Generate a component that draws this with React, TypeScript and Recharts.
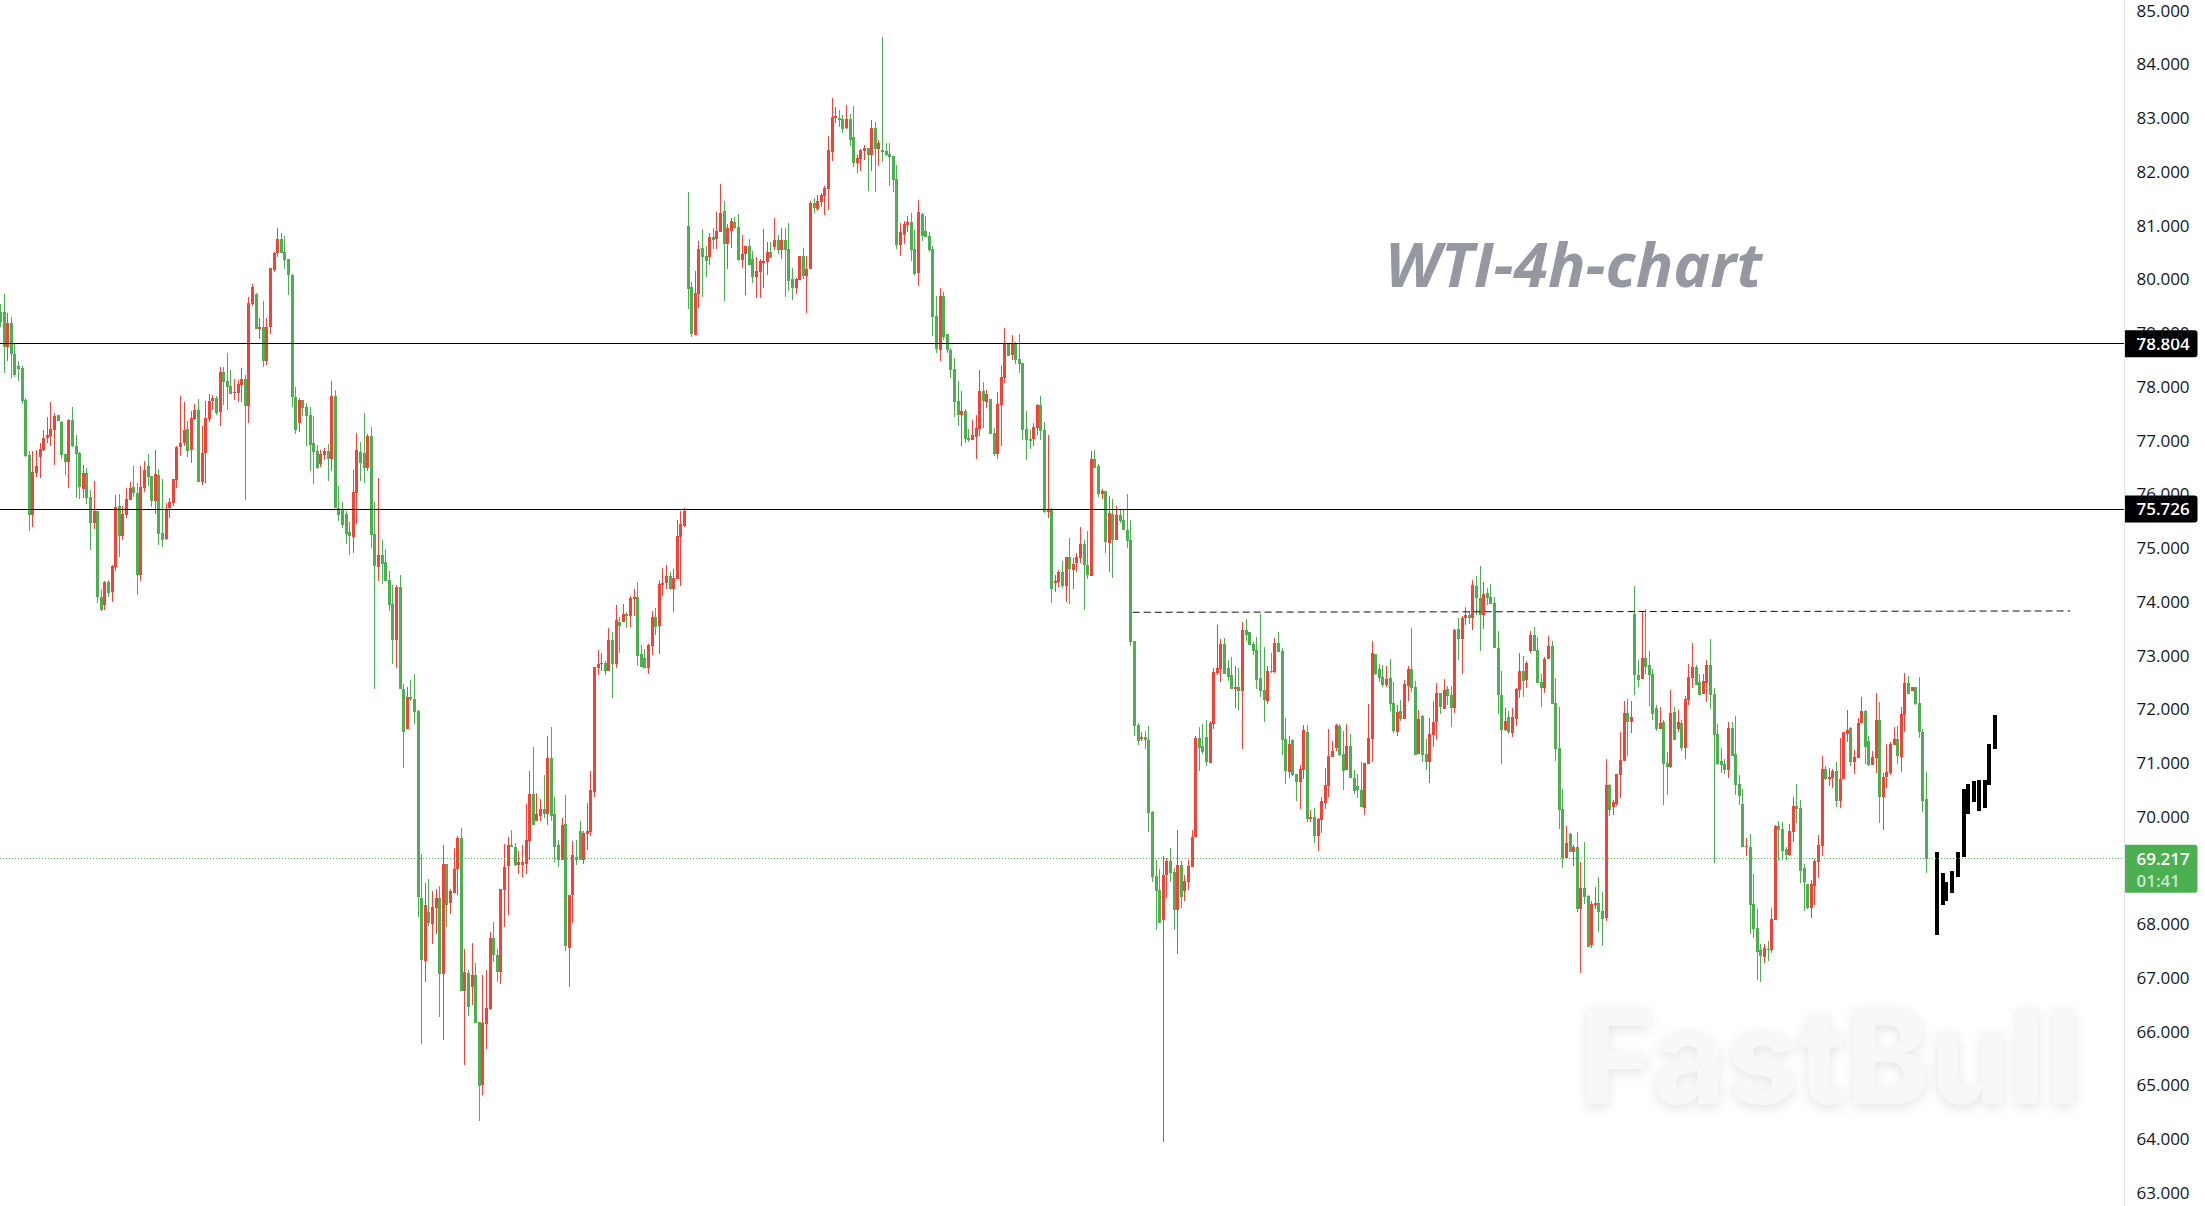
import React from 'react';
import { ComposedChart, Bar, XAxis, YAxis, ReferenceLine } from 'recharts';

// candles as [open, high, low, close] in order
const segmentA = [
  [79.40,79.54,79.12,79.21],[79.39,79.73,78.26,78.75],[78.75,79.37,78.48,79.19],[79.19,79.30,78.17,78.62],[78.62,78.81,78.19,78.22],
  [78.39,78.48,78.10,78.33],[78.35,78.39,77.69,77.74],[77.76,77.79,76.70,76.72],[76.73,76.81,75.32,75.61],[75.61,76.81,75.40,76.42],
  [76.40,76.82,76.32,76.53],[76.70,76.96,76.30,76.84],[76.82,77.20,76.81,77.05],[77.05,77.44,76.96,77.10],[77.08,77.72,76.90,77.22],
  [77.20,77.51,76.55,77.46],[77.48,77.48,77.36,77.36],[77.35,77.36,76.66,76.73],[76.75,76.75,76.36,76.60],[76.60,77.40,76.12,77.38],
  [77.38,77.62,76.88,76.90],[76.90,77.10,75.93,76.75],[76.77,76.79,75.91,76.14],[76.10,76.55,75.93,76.40],[76.40,76.49,75.82,75.93],
  [75.95,76.08,74.96,75.47],[75.47,76.25,75.35,75.69],[75.69,75.69,73.98,74.09],[74.09,74.24,73.83,73.85],[73.94,74.39,73.85,74.37],
  [74.37,74.41,74.09,74.16],[74.18,74.68,74.00,74.67],[74.65,75.99,74.57,75.76],[75.78,76.01,74.83,75.22],[75.22,75.78,75.15,75.63],
  [75.61,76.12,75.56,75.91],[75.89,76.23,75.89,76.12],[76.14,76.53,75.95,76.02],[76.02,76.21,74.13,74.50],[74.50,76.53,74.39,76.14],
  [76.12,76.62,76.04,76.45],[76.53,76.75,76.15,76.32],[76.34,76.34,75.76,75.88],[75.88,76.82,75.63,76.38],[76.36,76.47,75.06,75.26],
  [75.28,76.29,75.02,75.15],[75.17,75.84,75.15,75.73],[75.74,75.93,75.56,75.86],[75.84,76.29,75.78,76.29],[76.27,76.90,76.12,76.88],
  [76.88,77.83,76.71,76.96],[76.96,77.72,76.90,77.20],[77.22,77.36,76.69,76.81],[76.82,77.55,76.58,77.42],[77.40,77.68,77.38,77.57],
  [77.57,77.77,76.23,76.23],[76.23,77.27,76.17,76.77],[76.77,77.74,76.21,77.42],[77.40,77.87,77.35,77.74],[77.74,77.85,77.57,77.79],
  [77.79,77.83,77.48,77.51],[77.53,78.37,77.27,78.28],[78.28,78.37,77.66,78.09],[78.11,78.63,77.57,78.00],[78.02,78.31,77.87,77.87],
  [77.88,78.15,77.75,77.90],[77.88,78.13,77.72,78.05],[78.03,78.35,77.72,78.15],[78.15,78.22,75.89,77.64],[77.64,79.67,77.33,79.56],
  [79.54,79.91,79.50,79.86],[79.73,79.75,79.08,79.08],[79.08,79.28,78.89,79.11],[79.11,79.60,78.37,78.48],[78.48,79.28,78.41,79.11],
  [79.11,80.21,78.98,80.21],[80.17,80.51,80.14,80.49],[80.49,80.96,80.42,80.75],[80.75,80.86,80.49,80.49],[80.51,80.81,80.19,80.36],
  [80.38,80.38,79.71,80.08],[80.08,80.10,77.62,77.81],[77.81,78.00,77.12,77.20],[77.33,77.79,77.16,77.76],[77.76,77.76,77.46,77.61],
  [77.62,77.70,76.90,77.46],[77.48,77.62,76.43,76.92],[76.95,77.46,76.19,76.79],[76.81,76.92,76.47,76.49],[76.56,76.82,76.51,76.75],
  [76.73,76.86,76.64,76.81],[76.81,76.94,76.25,76.66],[76.66,78.11,76.43,77.83],[77.83,77.94,75.74,75.74],[75.74,76.15,75.50,75.61],
  [75.71,75.86,75.37,75.43],[75.63,75.69,75.07,75.26],[75.30,75.48,74.87,75.22],[75.21,76.45,74.91,76.04],[76.02,77.14,75.45,76.82],
  [76.79,76.97,76.25,76.58],[76.77,77.51,76.21,76.49],[76.49,77.12,76.43,77.08],[77.08,77.25,75.00,75.25],
];

const segmentB = [
  [75.27,75.86,72.38,74.67],[74.65,76.30,74.38,74.87],[74.87,75.15,74.34,74.70],[74.74,74.99,74.38,74.39],[74.41,74.58,73.83,73.94],
  [73.96,74.32,72.84,73.29],[73.29,74.32,72.77,74.28],[74.28,74.50,72.38,72.38],[72.38,72.47,70.90,71.58],[71.63,72.41,71.63,72.22],
  [72.22,72.54,72.15,72.19],[72.20,72.66,71.72,71.95],[71.96,71.99,68.13,68.50],[68.49,69.30,65.77,67.34],[67.32,68.76,66.93,68.35],
  [68.23,68.85,67.97,68.03],[68.01,68.61,67.63,68.32],[68.31,68.66,67.81,68.48],[68.48,68.72,66.28,67.08],[67.08,69.48,65.84,69.13],
  [69.13,69.13,67.94,68.35],[68.40,68.65,68.20,68.61],[68.59,69.41,68.59,69.03],[69.02,69.64,68.55,69.60],[69.60,69.80,66.76,66.76],
  [66.76,67.54,65.38,67.11],[67.09,67.15,66.29,66.46],[66.83,67.65,66.50,67.06],[67.06,67.27,66.17,66.17],[66.19,66.19,64.34,64.99],
  [65.01,67.05,64.82,66.16],[66.15,67.14,65.68,66.44],[66.42,67.86,66.40,67.75],[67.75,68.05,67.30,67.43],[67.43,67.54,66.93,67.11],
  [67.11,68.66,66.89,68.66],[68.64,69.50,67.94,69.07],[69.09,69.63,68.18,69.47],[69.48,69.75,69.44,69.44],[69.44,69.52,69.09,69.11],
  [69.11,69.37,68.94,69.15],[69.11,69.48,68.87,69.15],[69.13,70.23,68.94,69.56],[69.54,70.85,69.20,70.42],[70.42,71.29,69.84,69.84],
  [69.92,70.44,69.92,70.05],[70.02,70.34,69.92,70.14],[70.14,70.77,69.98,70.06],[70.06,71.50,69.84,71.10],[71.10,71.67,69.92,70.01],
  [70.05,70.36,69.15,69.43],[69.48,69.56,69.06,69.20],[69.20,69.98,69.19,69.84],[69.86,70.40,67.51,67.60],[67.56,68.55,66.83,68.55],
  [68.54,69.54,68.03,69.28],[69.26,69.57,69.11,69.19],[69.73,69.92,69.19,69.19],[69.19,69.73,69.13,69.69],[69.68,70.25,69.39,69.73],
  [69.71,70.85,69.65,70.49],[70.47,72.79,70.36,72.79],[72.77,73.11,72.63,72.84],[72.84,73.05,72.72,72.86],[72.86,72.89,72.63,72.72],
  [72.72,73.51,72.72,73.29],[73.29,73.44,72.21,72.84],[72.84,73.94,72.77,73.66],[73.62,73.72,73.05,73.55],[73.62,73.96,73.62,73.78],
  [73.78,73.81,73.52,73.74],[73.74,74.11,73.53,74.08],[74.06,74.24,73.74,74.09],[74.09,74.37,72.80,73.00],[73.03,73.20,72.79,72.79],
  [72.95,73.12,72.76,72.76],[72.76,73.22,72.66,73.20],[73.18,73.83,73.01,73.72],[73.72,73.88,73.38,73.53],[73.55,74.41,73.03,74.33],
  [74.32,74.63,74.11,74.35],[74.35,74.69,74.24,74.48],[74.48,74.56,74.22,74.24],[74.24,74.61,73.81,74.45],[74.43,75.53,74.43,75.23],
  [75.21,75.69,74.29,75.44],[75.41,75.75,75.40,75.69],
];

const segmentC = [
  [80.99,81.63,79.45,79.83],[79.86,79.95,78.93,78.98],[78.96,80.16,78.96,79.75],[79.73,80.71,79.47,80.57],[80.58,80.94,79.67,80.42],
  [80.43,80.62,80.04,80.34],[80.42,80.86,80.27,80.79],[80.79,80.96,80.57,80.73],[80.75,81.25,80.57,80.90],[80.88,81.78,80.88,81.24],
  [81.27,81.46,79.60,80.66],[80.66,81.03,80.19,80.96],[80.90,81.14,80.58,81.09],[81.07,81.16,80.94,80.96],[80.97,81.22,80.35,80.36],
  [80.36,80.83,80.21,80.47],[80.47,80.62,79.71,80.62],[80.62,80.75,80.27,80.27],[80.38,80.53,79.93,80.04],[80.04,80.42,79.65,80.16],
  [80.14,80.38,79.65,80.34],[80.30,80.94,79.84,80.34],[80.32,80.70,80.08,80.51],[80.51,80.70,80.40,80.40],[80.60,81.14,80.55,80.73],
  [80.73,80.83,80.47,80.55],[80.55,80.96,80.38,80.73],[80.73,80.96,79.67,80.55],[80.57,81.05,79.78,79.97],[80.01,80.21,79.62,79.84],
  [79.84,80.03,79.73,80.01],[79.99,80.43,79.99,80.43],[80.43,80.58,80.01,80.06],[80.06,80.43,79.38,80.19],[80.19,81.46,80.19,81.42],
  [81.42,81.51,81.23,81.33],[81.31,81.57,81.27,81.46],[81.44,81.61,81.35,81.57],[81.55,81.74,81.20,81.70],[81.68,82.67,81.29,82.41],
  [82.37,83.37,82.20,83.02],[83.00,83.21,82.91,83.04],[83.00,83.15,82.84,82.97],[82.98,83.06,82.72,82.80],[82.82,83.25,82.80,82.98],
  [82.98,83.08,82.48,82.59],[82.65,83.23,82.09,82.17],[82.17,82.31,81.98,82.26],[82.24,82.43,82.02,82.41],[82.39,82.50,82.22,82.45],
  [82.45,82.45,81.64,82.32],[82.32,82.97,82.02,82.82],[82.82,82.93,81.63,82.43],[82.43,82.59,82.11,82.54],[82.41,84.51,82.18,82.37],
  [82.39,82.54,82.30,82.32],[82.33,82.54,81.74,82.28],[82.30,82.30,81.63,81.85],[81.87,82.13,80.57,80.64],[80.64,81.05,80.43,80.88],
  [80.83,81.09,80.66,81.03],[81.01,81.18,80.88,81.07],[81.07,81.23,80.34,80.55],[80.57,80.92,80.08,80.10],[80.12,81.48,79.88,81.25],
  [81.22,81.23,80.71,80.81],[80.90,81.18,80.79,80.79],[80.81,80.88,80.51,80.55],[80.57,80.62,78.95,79.30],[79.32,79.69,78.63,78.70],
  [78.69,79.84,78.48,79.69],[79.69,79.76,78.87,78.93],[78.98,78.98,78.63,78.69],[78.69,78.72,78.16,78.31],[78.33,78.54,77.44,77.72],
  [77.74,78.11,77.27,77.48],[77.48,77.92,76.90,77.55],[77.55,77.59,76.95,77.03],[77.05,77.22,76.97,77.01],[77.01,77.38,77.01,77.10],
  [77.07,77.48,76.66,77.23],[77.22,78.31,77.09,77.92],[77.92,78.09,77.23,77.74],[77.72,77.94,77.61,77.87],[77.77,77.77,77.12,77.12],
  [77.14,77.23,76.71,76.75],[76.75,77.90,76.66,77.68],[77.66,78.39,76.90,78.18],[78.17,79.09,78.07,78.82],[78.82,78.82,78.57,78.57],
  [78.59,78.96,78.50,78.82],[78.82,78.83,78.43,78.50],[78.52,78.98,78.26,78.43],[78.44,78.44,77.01,77.20],[77.22,77.55,76.64,77.01],
  [77.03,77.20,76.84,76.99],[77.03,77.33,76.90,77.25],[77.23,77.68,77.10,77.66],[77.66,77.83,77.01,77.18],
];

const segmentD = [
  [77.20,77.35,75.65,75.68],[75.67,77.10,75.56,75.72],[75.72,75.75,73.98,74.24],[74.35,74.50,74.18,74.39],[74.37,74.59,74.28,74.55],
  [74.55,74.76,74.26,74.29],[74.29,74.83,74.00,74.83],[74.83,75.19,73.96,74.61],[74.59,74.82,74.24,74.70],[74.72,74.91,74.55,74.83],
  [74.82,75.39,74.72,75.08],[75.08,75.15,73.85,74.69],[74.69,75.32,74.42,74.50],[74.48,76.81,74.48,76.66],[76.66,76.82,76.49,76.49],
  [76.53,76.57,75.95,76.01],[76.01,76.10,75.91,76.06],[76.06,76.06,74.91,75.11],[75.10,75.97,74.55,75.65],[75.63,75.91,74.44,75.15],
  [75.15,75.78,75.15,75.62],[75.62,75.73,75.47,75.50],[75.52,75.73,75.34,75.34],[75.34,76.01,75.00,75.13],[75.15,75.52,73.18,73.26],
];

const segmentE = [
  [73.27,73.27,71.50,71.69],[71.71,71.75,71.34,71.41],[71.45,71.58,71.41,71.49],[71.49,71.60,71.26,71.43],[71.43,71.69,69.72,70.07],
  [70.09,70.11,68.79,68.88],[68.90,69.20,67.89,68.62],[68.64,69.03,68.02,68.02],[68.08,69.27,63.95,68.92],[68.92,69.23,68.49,69.18],
  [69.18,69.42,68.79,68.95],[68.97,69.05,67.89,68.26],[68.26,69.75,67.45,69.10],[69.10,69.18,68.30,68.51],[68.62,68.92,68.43,68.80],
  [68.79,69.20,68.64,69.08],[69.07,69.75,69.07,69.62],[69.62,71.50,69.62,71.47],[71.47,71.67,70.85,71.28],[71.32,71.73,71.17,71.20],
  [71.49,71.80,70.94,71.02],[71.00,71.78,71.00,71.75],[71.73,72.77,71.63,72.69],[72.68,73.57,72.64,72.77],[72.75,73.31,72.51,73.22],
  [73.22,73.33,72.66,72.66],[72.77,72.92,72.53,72.60],[72.64,72.97,72.38,72.38],[72.38,72.81,72.02,72.42],[72.42,72.77,71.99,72.34],
  [72.34,73.62,71.26,73.48],[73.48,73.68,73.27,73.38],[73.44,73.44,73.20,73.20],[73.22,73.25,73.01,73.09],[73.10,73.35,72.38,72.55],
  [72.58,73.77,72.23,72.34],[72.36,73.16,71.76,72.17],[72.16,72.81,72.10,72.71],[72.71,73.05,72.68,72.69],[72.69,73.33,72.68,73.24],
  [73.24,73.44,73.07,73.07],[73.09,73.14,71.15,71.43],[71.45,71.84,70.61,70.85],[70.83,71.50,70.72,71.35],[71.43,71.45,70.76,70.78],
  [70.80,70.80,70.29,70.65],[70.65,70.96,70.14,70.89],[70.87,71.71,70.70,71.62],[71.58,71.71,69.90,69.96],[69.96,70.12,69.90,70.00],
  [70.00,70.16,69.51,69.64],[69.64,69.98,69.36,69.96],[69.94,70.37,69.69,70.29],[70.26,70.91,70.14,70.59],[70.57,71.63,70.37,71.13],
  [71.11,71.41,71.11,71.22],[71.28,71.73,71.22,71.71],[71.69,71.73,71.13,71.15],[71.17,71.60,70.50,70.85],[70.87,71.73,70.87,71.32],
  [71.32,71.54,70.72,70.72],[70.72,70.87,70.42,70.48],[70.57,70.80,70.35,70.50],[70.50,71.02,70.18,70.18],[70.16,71.00,70.03,71.00],
  [70.98,72.10,70.98,71.47],[71.45,73.27,71.02,73.05],[73.03,73.03,72.64,72.66],[72.75,72.84,72.51,72.58],[72.60,72.82,72.42,72.45],
  [72.45,72.81,72.42,72.56],[72.58,72.94,71.97,72.10],[72.12,72.51,71.56,71.60],[71.58,72.08,71.50,71.95],[71.97,72.17,71.78,71.82],
  [71.82,72.55,71.82,72.47],[72.43,72.81,72.15,72.75],[72.75,73.51,72.32,72.40],[72.42,72.53,71.15,71.15],[71.17,71.99,71.17,71.82],
  [71.88,71.90,71.02,71.15],[71.17,71.45,70.87,71.02],[71.02,71.84,70.63,71.54],[71.52,72.15,71.30,71.76],[71.76,72.49,71.43,72.30],
  [72.30,72.30,71.91,72.04],[72.00,72.56,72.00,72.36],[72.38,72.43,72.08,72.25],[72.27,72.43,71.67,72.02],[72.02,73.50,71.93,73.48],
  [73.50,73.70,72.92,73.31],[73.31,73.74,72.66,73.70],[73.70,73.90,73.57,73.76],[73.76,73.83,73.59,73.70],[73.70,74.41,73.48,74.31],
  [74.30,74.48,73.76,74.07],[74.07,74.67,73.09,73.76],[73.76,74.37,73.50,74.15],[74.17,74.26,73.94,74.07],[74.09,74.33,73.96,73.96],
  [73.98,74.09,73.14,73.14],[73.14,73.46,71.91,72.27],[72.27,72.71,70.98,71.62],[71.62,72.02,71.60,71.78],[71.86,71.97,71.54,71.58],
  [71.56,72.02,71.49,71.86],[71.82,72.40,71.69,72.38],[72.36,73.05,72.21,72.71],[72.71,72.99,72.23,72.53],[72.55,72.90,72.40,72.86],
];

const segmentF = [
  [73.09,73.46,73.05,73.38],[73.38,73.53,73.09,73.09],[73.10,73.35,72.49,72.49],[72.51,72.66,72.04,72.40],[72.40,72.97,72.30,72.94],
  [72.94,73.36,72.94,73.18],[73.18,73.27,72.10,72.10],[72.12,72.58,71.04,71.26],[71.28,72.04,69.77,70.13],[70.14,70.52,69.05,69.23],
  [69.23,69.83,69.23,69.51],[69.68,69.70,69.34,69.34],[69.34,69.47,69.08,69.44],[69.44,69.72,68.23,68.29],[68.29,69.16,67.09,68.68],
  [68.68,69.53,68.38,68.51],[68.53,68.54,67.58,67.58],[67.61,68.43,67.56,68.38],[68.36,68.69,68.28,68.40],[68.40,68.88,67.86,68.23],
  [68.25,68.60,67.60,68.10],[68.12,71.08,68.06,70.59],[70.59,70.61,70.01,70.13],[70.18,70.31,70.03,70.27],[70.24,70.80,70.20,70.80],
  [70.78,71.58,70.35,71.06],[71.04,72.15,71.04,71.93],[71.93,72.19,71.13,71.76],[71.76,72.15,71.56,71.86],[73.77,74.30,72.27,72.64],
  [72.64,72.92,72.41,72.55],[72.56,73.83,72.56,72.96],[72.96,73.87,72.66,72.79],[72.82,73.09,72.06,72.64],[72.66,72.75,71.80,71.91],
  [72.02,72.08,71.60,71.63],[71.63,72.04,71.63,71.74],[71.76,71.80,70.22,70.98],[71.00,71.21,70.40,70.93],[70.93,72.36,70.91,71.93],
  [71.95,72.04,71.43,71.43],[71.63,71.99,71.58,71.76],[71.74,71.80,71.22,71.28],[71.28,72.25,71.08,72.19],[72.17,72.84,72.08,72.60],
  [72.58,73.23,72.40,72.79],[72.79,72.82,72.45,72.45],[72.51,72.66,72.27,72.27],[72.29,72.66,72.29,72.53],[72.49,72.92,72.14,72.82],
  [72.82,73.31,72.00,72.27],[72.29,72.40,69.14,71.52],[71.54,71.73,70.96,70.98],[71.04,71.28,70.82,70.96],[70.98,71.08,70.80,70.87],
  [70.87,71.76,70.72,71.65],[71.65,71.76,71.13,71.13],[71.17,71.88,70.40,70.59],[70.61,70.78,70.22,70.39],[70.24,70.52,69.44,69.44],
  [69.44,69.60,69.27,69.46],[69.44,69.68,67.82,68.36],[68.38,68.94,67.74,67.91],[67.93,68.28,66.96,67.48],[67.52,67.63,66.93,67.41],
  [67.39,67.63,67.28,67.56],[67.54,67.69,67.32,67.52],[67.52,68.30,67.46,68.10],[68.08,69.85,68.08,69.83],[69.83,69.92,69.18,69.75],
  [69.77,69.90,69.20,69.36],[69.40,69.44,69.20,69.29],[69.29,69.87,69.27,69.74],[69.72,70.37,69.53,70.20],[70.20,70.61,69.88,70.14],
  [70.16,70.31,68.77,68.99],[69.05,69.12,68.25,68.79],[68.75,68.75,68.28,68.30],[68.30,68.82,68.12,68.75],[68.71,69.21,68.36,69.18],
  [69.16,69.66,68.86,69.47],[69.45,71.13,69.27,70.89],[70.89,70.94,70.68,70.70],[70.70,70.91,70.57,70.74],[70.72,70.89,70.54,70.85],
  [70.85,71.02,70.18,70.29],[70.29,71.47,70.16,70.70],[70.70,71.58,70.70,71.58],[71.54,71.99,71.39,71.62],[71.65,71.67,70.94,71.02],
  [71.02,71.24,70.80,71.11],[71.09,71.84,71.09,71.74],[71.74,72.23,71.74,71.97],[71.97,71.99,70.98,71.30],[71.41,71.50,70.94,70.96],
  [70.96,71.22,70.96,71.11],[71.09,72.30,70.82,71.80],[71.80,72.14,69.88,70.37],[70.37,70.82,69.75,70.74],[70.74,71.35,70.54,70.83],
  [70.82,71.39,70.78,71.35],[71.34,71.67,71.34,71.45],[71.45,71.69,70.98,71.13],[71.11,72.04,70.83,71.91],[71.89,72.68,71.58,72.49],
  [72.49,72.62,72.29,72.29],[72.34,72.41,72.34,72.41],[72.41,72.41,72.08,72.10],[72.12,72.60,71.47,71.58],[71.58,71.63,70.09,70.29],
  [70.33,70.83,68.95,69.22],
];

// hand-drawn bars pattern to the right of the last candle: [slot, low, high]
const projectedBars = [
  [537.9,67.80,69.34],[539.5,68.36,68.95],[540.5,68.43,68.79],[542.2,68.58,68.99],[543.7,68.88,69.34],[545.3,69.25,70.52],
  [546.5,70.05,70.61],[548.1,70.27,70.67],[549.5,70.11,70.68],[551.2,70.16,70.68],[552.3,70.59,71.35],[553.9,71.26,71.89],
];

// 69 sits behind the last price tag in the reference, so it has no label
const priceTicks = [63,64,65,66,67,68,70,71,72,73,74,75,76,77,78,79,80,81,82,83,84,85];
const lastPrice = 69.217;
const upperLevel = 78.804;
const lowerLevel = 75.726;
const resistance = [{ x: 314.4, y: 73.805 }, { x: 574.8, y: 73.83 }];

const UP = '#f44336';
const DOWN = '#4caf50';

const candles = [...segmentA, ...segmentB, ...segmentC, ...segmentD, ...segmentE, ...segmentF];
const rows = [
  ...candles.map(([open, high, low, close], slot) => ({ slot, open, close, range: [low, high] })),
  ...projectedBars.map(([slot, low, high]) => ({ slot, projected: true, range: [low, high] })),
];

const CandleShape = (props: any) => {
  const { x, y, width, height, payload } = props;
  const cx = x + width / 2;
  if (payload.projected) {
    return <rect x={Math.round(cx - 2)} y={y} width={4} height={height} fill="#000" shapeRendering="crispEdges" />;
  }
  const [low, high] = payload.range;
  const perUnit = high > low ? height / (high - low) : 0;
  const top = y + (high - Math.max(payload.open, payload.close)) * perUnit;
  const bodyHeight = Math.max(Math.abs(payload.open - payload.close) * perUnit, 1);
  const color = payload.close >= payload.open ? UP : DOWN;
  return (
    <g shapeRendering="crispEdges">
      <rect x={Math.round(cx - 0.5)} y={y} width={1} height={height} fill={color} />
      <rect x={Math.round(cx - 1.5)} y={top} width={3} height={bodyHeight} fill={color} />
    </g>
  );
};

const priceTag = (text: string) => (props: any) => {
  const { x, y, width } = props.viewBox;
  const left = x + width;
  return (
    <g>
      <path d={`M${left} ${y - 13.5}h70a3 3 0 0 1 3 3v21a3 3 0 0 1 -3 3h-70z`} fill="#000" />
      <text x={left + 12} y={y + 6} fill="#fff" fontFamily="Open Sans" fontWeight={600} fontSize={17}>{text}</text>
    </g>
  );
};

const countdownTag = (price: string, timer: string) => (props: any) => {
  const { x, y, width } = props.viewBox;
  const left = x + width;
  return (
    <g>
      <path d={`M${left} ${y - 14}h70a3 3 0 0 1 3 3v42a3 3 0 0 1 -3 3h-70z`} fill={DOWN} />
      <text x={left + 12} y={y + 6} fill="#fff" fontFamily="Open Sans" fontWeight={600} fontSize={17}>{price}</text>
      <text x={left + 12} y={y + 28} fill="#cbe7cd" fontFamily="Open Sans" fontWeight={600} fontSize={17}>{timer}</text>
    </g>
  );
};

export default function App() {
  return (
    <div style={{ position: 'absolute', left: 0, top: 0, width: 2205, height: 1206, background: '#fff', overflow: 'hidden' }}>
      <svg width={2205} height={1206} style={{ position: 'absolute', left: 0, top: 0 }}>
        <text
          x={1580} y={1104} textLength={501} lengthAdjust="spacingAndGlyphs"
          fontFamily="Inter" fontWeight={800} fontSize={133} fill="#f8f8f8"
          style={{ filter: 'drop-shadow(0 4px 6px #e6e6e6)' }}
        >FastBull</text>
        <text
          x={1385} y={287} textLength={377} lengthAdjust="spacingAndGlyphs"
          fontFamily="Open Sans" fontStyle="italic" fontWeight={700} fontSize={61} fill="#9598a1"
        >WTI-4h-chart</text>
      </svg>
      <div style={{ position: 'absolute', left: 0, top: 0 }}>
        <ComposedChart width={2205} height={1206} data={rows} margin={{ top: 0, right: 0, bottom: 0, left: 0 }}>
          <XAxis dataKey="slot" type="number" domain={[-0.2, 589.9]} hide allowDataOverflow />
          <YAxis
            orientation="right"
            width={80.5}
            domain={[62.757, 85.199]}
            allowDataOverflow
            ticks={priceTicks}
            interval={0}
            tickFormatter={(v: number) => v.toFixed(3)}
            tickLine={false}
            tickSize={0}
            tickMargin={12}
            axisLine={{ stroke: '#e0e3eb', strokeWidth: 1 }}
            tick={{ fill: '#131722', fontFamily: 'Open Sans', fontSize: 17 }}
          />
          <Bar dataKey="range" barSize={3} shape={CandleShape} isAnimationActive={false} />
          <ReferenceLine y={lastPrice} stroke={DOWN} strokeDasharray="1 2" shapeRendering="crispEdges" label={countdownTag('69.217', '01:41')} />
          <ReferenceLine segment={resistance} stroke="#111" strokeDasharray="7 4" />
          <ReferenceLine y={upperLevel} stroke="#000" shapeRendering="crispEdges" label={priceTag('78.804')} />
          <ReferenceLine y={lowerLevel} stroke="#000" shapeRendering="crispEdges" label={priceTag('75.726')} />
        </ComposedChart>
      </div>
    </div>
  );
}
